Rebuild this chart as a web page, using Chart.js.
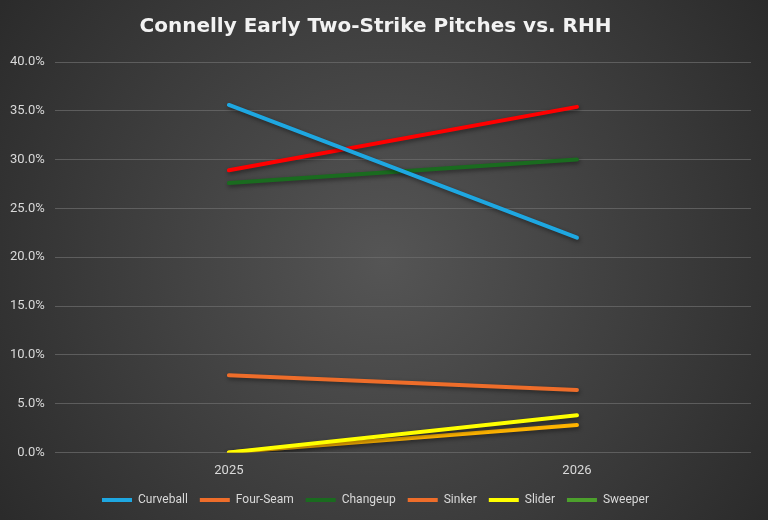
<!DOCTYPE html>
<html>
<head>
<meta charset="utf-8">
<script src="https://cdn.jsdelivr.net/npm/chart.js@4.4.1/dist/chart.umd.min.js"></script>
<style>
  html, body { margin: 0; padding: 0; background: #333; }
  #pitch-linechart { display: block; }
</style>
</head>
<body>
<canvas id="pitch-linechart" width="768" height="520"></canvas>
<script>
const years = ['2025', '2026'];
const pitchNames = ['Curveball', 'Four-Seam', 'Changeup', 'Sinker', 'Slider', 'Sweeper'];
const curveball = [35.6, 22.0];
const fourSeam = [28.9, 35.4];
const changeup = [27.6, 30.0];
const sinker = [7.9, 6.4];
const slider = [0.0, 3.8];
const sweeper = [0.0, 2.8];
const lineColors = ['#1ea7e1', '#ff0000', '#1a6b1f', '#ee6d2a', '#ffff00', '#ffb400'];
const legendColors = ['#1ea7e1', '#ee6d2a', '#1a6b1f', '#ee6d2a', '#ffff00', '#4ca02c'];

const background = {
    id: 'background',
    beforeDraw(chart) {
        const ctx = chart.ctx;
        const w = chart.width, h = chart.height;
        const g = ctx.createRadialGradient(w / 2, h / 2, 0, w / 2, h / 2, w * 0.6);
        g.addColorStop(0, '#555555');
        g.addColorStop(1, '#2b2b2b');
        ctx.save();
        ctx.fillStyle = g;
        ctx.fillRect(0, 0, w, h);
        ctx.restore();
    }
};

const lineShadow = {
    id: 'lineShadow',
    beforeDatasetsDraw(chart) {
        const ctx = chart.ctx;
        ctx.save();
        ctx.shadowColor = 'rgba(0,0,0,0.45)';
        ctx.shadowBlur = 4;
        ctx.shadowOffsetX = 1;
        ctx.shadowOffsetY = 2;
    },
    afterDatasetsDraw(chart) {
        chart.ctx.restore();
    }
};

const seriesData = [curveball, fourSeam, changeup, sinker, slider, sweeper];

let canvasElement = document.getElementById('pitch-linechart').getContext('2d');

const pitch_linechart = new Chart(canvasElement, {
    type: 'line',
    data: {
        labels: years,
        datasets: pitchNames.map((name, i) => ({
            label: name,
            data: seriesData[i],
            borderColor: lineColors[i],
            backgroundColor: lineColors[i],
            borderWidth: 4,
            borderCapStyle: 'round',
            pointRadius: 0,
            tension: 0
        }))
    },
    options: {
        responsive: false,
        animation: false,
        layout: { padding: { left: 0, right: 17, top: 0, bottom: 4 } },
        plugins: {
            title: {
                display: true,
                text: 'Connelly Early Two-Strike Pitches vs. RHH',
                color: '#f2f2f2',
                font: { family: 'DejaVu Sans', size: 20, weight: 'bold' },
                padding: { top: 15, bottom: 23 }
            },
            legend: {
                position: 'bottom',
                labels: {
                    color: '#d9d9d9',
                    font: { family: 'Roboto', size: 12 },
                    boxWidth: 30,
                    boxHeight: 4,
                    padding: 12,
                    generateLabels(chart) {
                        return chart.data.datasets.map((ds, i) => ({
                            text: ds.label,
                            fillStyle: legendColors[i],
                            strokeStyle: legendColors[i],
                            lineWidth: 0,
                            fontColor: '#d9d9d9',
                            datasetIndex: i
                        }));
                    }
                }
            },
            tooltip: { enabled: false }
        },
        scales: {
            x: {
                offset: true,
                grid: { display: false },
                border: { display: false },
                ticks: { color: '#d9d9d9', font: { family: 'Roboto', size: 13 }, padding: 3 }
            },
            y: {
                min: 0,
                max: 40,
                ticks: {
                    stepSize: 5,
                    color: '#d9d9d9',
                    font: { family: 'Roboto', size: 13 },
                    padding: 10,
                    callback: v => v.toFixed(1) + '%'
                },
                grid: { color: 'rgba(110,110,110,0.7)', drawTicks: false, lineWidth: 1 },
                border: { display: false }
            }
        }
    },
    plugins: [background, lineShadow]
});
</script>
</body>
</html>
